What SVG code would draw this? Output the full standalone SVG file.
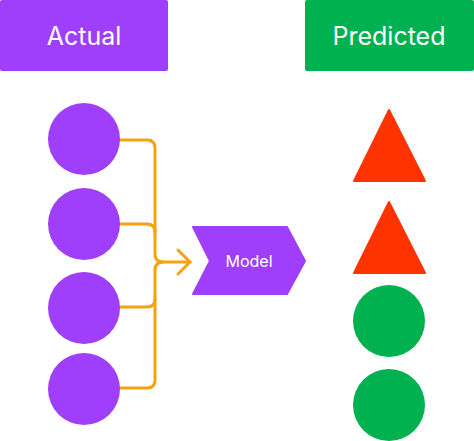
<svg xmlns="http://www.w3.org/2000/svg" width="474" height="441" viewBox="0 0 474 441">
<style>
.purple{fill:#9F3FFB}
.green{fill:#00B14F}
.red{fill:#FF3300}
.hdr{font-family:Inter,"Liberation Sans",sans-serif;font-size:25px;fill:#ffffff;text-anchor:middle}
.lbl{font-family:Inter,"Liberation Sans",sans-serif;font-size:16px;fill:#ffffff;text-anchor:middle}
.conn{fill:none;stroke:#F6A20E;stroke-width:3;stroke-linecap:round;stroke-linejoin:round}
</style>
<rect width="474" height="441" fill="#ffffff"/>
<g id="actual-header">
<rect class="purple" x="0" y="0" width="168" height="71" rx="2"/>
<text class="hdr" x="84" y="45">Actual</text>
</g>
<g id="predicted-header">
<rect class="green" x="305" y="0" width="169" height="71" rx="2"/>
<text class="hdr" x="389" y="45">Predicted</text>
</g>
<g id="connectors">
<path class="conn" d="M120 140 H147 Q155 140 155 148 V254 Q155 262 163 262 H190"/>
<path class="conn" d="M120 224 H147 Q155 224 155 232"/>
<path class="conn" d="M120 307 H147 Q155 307 155 299"/>
<path class="conn" d="M120 388 H147 Q155 388 155 380 V270 Q155 262 163 262"/>
<path class="conn" d="M178 250 L190 262 L178 274"/>
</g>
<g id="actual-1"><circle class="purple" cx="84" cy="139" r="36"/></g>
<g id="actual-2"><circle class="purple" cx="84" cy="224" r="36"/></g>
<g id="actual-3"><circle class="purple" cx="84" cy="308" r="36"/></g>
<g id="actual-4"><circle class="purple" cx="84" cy="389" r="36"/></g>
<g id="model">
<path class="purple" d="M193 227 H287 L305 261 L287 294 H193 L210 261 Z" stroke="#9F3FFB" stroke-width="2" stroke-linejoin="round"/>
<text class="lbl" x="249" y="267">Model</text>
</g>
<g id="pred-1"><path class="red" d="M389 110 L425 181 H354 Z" stroke="#FF3300" stroke-width="2" stroke-linejoin="round"/></g>
<g id="pred-2"><path class="red" d="M389 202 L425 273 H354 Z" stroke="#FF3300" stroke-width="2" stroke-linejoin="round"/></g>
<g id="pred-3"><circle class="green" cx="389" cy="321" r="36"/></g>
<g id="pred-4"><circle class="green" cx="389" cy="405" r="36"/></g>
</svg>
